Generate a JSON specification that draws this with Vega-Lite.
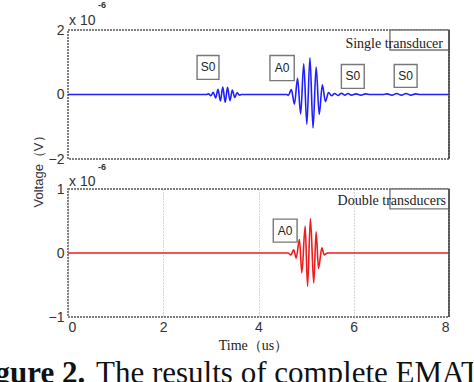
{
  "$schema": "https://vega.github.io/schema/vega-lite/v6.json",
  "padding": {"left": -34, "top": 0, "right": -8, "bottom": -5},
  "bounds": "flush",
  "spacing": 30,
  "background": "white",
  "config": {
    "view": {"stroke": "#555", "strokeDash": [2, 1], "strokeWidth": 1.5},
    "axis": {"labelFont": "Liberation Sans", "labelFontSize": 14, "labelColor": "#333", "titleFont": "Liberation Sans", "titleFontWeight": "normal", "titleColor": "#333", "domain": false, "ticks": false, "grid": false, "labelOverlap": false}
  },
  "datasets": {
    "single": [
      {"time": 0, "voltage": 0}, {"time": 2.9, "voltage": 0}, {"time": 2.95, "voltage": 0.02}, {"time": 3.0, "voltage": -0.04},
      {"time": 3.05, "voltage": 0.07}, {"time": 3.1, "voltage": -0.11}, {"time": 3.15, "voltage": 0.16}, {"time": 3.2, "voltage": -0.2},
      {"time": 3.25, "voltage": 0.23}, {"time": 3.3, "voltage": -0.24}, {"time": 3.35, "voltage": 0.22}, {"time": 3.4, "voltage": -0.19},
      {"time": 3.45, "voltage": 0.14}, {"time": 3.5, "voltage": -0.09}, {"time": 3.55, "voltage": 0.05}, {"time": 3.6, "voltage": -0.02},
      {"time": 3.65, "voltage": 0}, {"time": 4.6, "voltage": 0}, {"time": 4.625, "voltage": -0.03}, {"time": 4.69, "voltage": 0.15},
      {"time": 4.755, "voltage": -0.3}, {"time": 4.82, "voltage": 0.5}, {"time": 4.885, "voltage": -0.6}, {"time": 4.95, "voltage": 0.95},
      {"time": 5.015, "voltage": -0.92}, {"time": 5.08, "voltage": 1.14}, {"time": 5.145, "voltage": -1.04}, {"time": 5.21, "voltage": 0.85},
      {"time": 5.275, "voltage": -0.62}, {"time": 5.34, "voltage": 0.3}, {"time": 5.405, "voltage": -0.22}, {"time": 5.47, "voltage": 0.06},
      {"time": 5.535, "voltage": -0.04}, {"time": 5.6, "voltage": 0.03}, {"time": 5.67, "voltage": -0.03}, {"time": 5.74, "voltage": 0.04},
      {"time": 5.81, "voltage": -0.02}, {"time": 5.88, "voltage": 0.03}, {"time": 5.95, "voltage": -0.02}, {"time": 6.05, "voltage": 0.02},
      {"time": 6.15, "voltage": -0.02}, {"time": 6.25, "voltage": 0.02}, {"time": 6.35, "voltage": 0}, {"time": 6.6, "voltage": 0},
      {"time": 6.7, "voltage": 0.02}, {"time": 6.8, "voltage": -0.02}, {"time": 6.9, "voltage": 0.03}, {"time": 7.0, "voltage": -0.02},
      {"time": 7.1, "voltage": 0.03}, {"time": 7.2, "voltage": -0.02}, {"time": 7.3, "voltage": 0.02}, {"time": 7.4, "voltage": 0},
      {"time": 8, "voltage": 0}
    ],
    "double": [
      {"time": 0, "voltage": 0}, {"time": 4.62, "voltage": 0}, {"time": 4.68, "voltage": -0.03}, {"time": 4.74, "voltage": 0.05},
      {"time": 4.79, "voltage": -0.08}, {"time": 4.86, "voltage": 0.21}, {"time": 4.91, "voltage": -0.31}, {"time": 4.98, "voltage": 0.42},
      {"time": 5.03, "voltage": -0.52}, {"time": 5.09, "voltage": 0.54}, {"time": 5.16, "voltage": -0.47}, {"time": 5.21, "voltage": 0.33},
      {"time": 5.26, "voltage": -0.24}, {"time": 5.33, "voltage": 0.08}, {"time": 5.38, "voltage": -0.03}, {"time": 5.45, "voltage": 0},
      {"time": 8, "voltage": 0}
    ],
    "singleBoxes": [
      {"time": 2.71, "time2": 3.17, "voltage": 1.21, "voltage2": 0.47},
      {"time": 4.24, "time2": 4.75, "voltage": 1.21, "voltage2": 0.43},
      {"time": 5.74, "time2": 6.22, "voltage": 0.93, "voltage2": 0.19},
      {"time": 6.85, "time2": 7.33, "voltage": 0.93, "voltage2": 0.22},
      {"time": 6.76, "time2": 8, "voltage": 2, "voltage2": 1.38}
    ],
    "singleBoxText": [
      {"label": "S0", "time": 2.94, "voltage": 0.84},
      {"label": "A0", "time": 4.495, "voltage": 0.82},
      {"label": "S0", "time": 5.98, "voltage": 0.56},
      {"label": "S0", "time": 7.09, "voltage": 0.575}
    ],
    "singleLegend": [{"label": "Single transducer", "time": 7.874, "voltage": 1.58}],
    "singleEdge": [{"time": 8, "voltage": -2, "voltage2": 2}],
    "singleScale": [{"time": 0, "voltage": 2, "base": "x 10", "exponent": "-6"}],
    "doubleBoxes": [
      {"time": 4.31, "time2": 4.81, "voltage": 0.53, "voltage2": 0.17},
      {"time": 6.76, "time2": 8, "voltage": 1, "voltage2": 0.69}
    ],
    "doubleBoxText": [{"label": "A0", "time": 4.56, "voltage": 0.35}],
    "doubleLegend": [{"label": "Double transducers", "time": 7.937, "voltage": 0.81}],
    "doubleEdge": [{"time": 8, "voltage": -1, "voltage2": 1}],
    "doubleScale": [{"time": 0, "voltage": 1, "base": "x 10", "exponent": "-6"}],
    "caption": [{"time": 0, "voltage": -1, "lead": "Figure 2.", "body": "The results of complete EMAT"}]
  },
  "vconcat": [
    {
      "width": 381,
      "height": 129,
      "encoding": {
        "x": {"field": "time", "type": "quantitative", "scale": {"domain": [0, 8], "nice": false, "zero": false}, "axis": null},
        "y": {"field": "voltage", "type": "quantitative", "scale": {"domain": [-2, 2], "nice": false},
              "axis": {"values": [-2, 0, 2], "format": "d", "labelOverlap": false, "title": "Voltage（V）", "titleX": -30, "titleY": 138, "titleAngle": -90, "titleAlign": "center", "titleBaseline": "middle", "titleFontSize": 13, "labelPadding": 4}}
      },
      "layer": [
        {"data": {"name": "single"}, "mark": {"type": "line", "color": "#1f1fff", "strokeWidth": 1.6, "interpolate": "monotone"}},
        {"data": {"name": "singleBoxes"}, "mark": {"type": "rect", "fill": "white", "stroke": "#777", "strokeWidth": 1.4},
         "encoding": {"x2": {"field": "time2"}, "y2": {"field": "voltage2"}}},
        {"data": {"name": "singleBoxText"}, "mark": {"type": "text", "font": "Liberation Sans", "fontSize": 12, "color": "#222", "align": "center", "baseline": "middle"},
         "encoding": {"text": {"field": "label"}}},
        {"data": {"name": "singleLegend"}, "mark": {"type": "text", "font": "Liberation Serif", "fontSize": 14, "color": "#222", "align": "right", "baseline": "middle"},
         "encoding": {"text": {"field": "label"}}},
        {"data": {"name": "singleEdge"}, "mark": {"type": "rule", "color": "#444", "strokeWidth": 1.5},
         "encoding": {"y2": {"field": "voltage2"}}},
        {"data": {"name": "singleScale"}, "mark": {"type": "text", "font": "Liberation Sans", "fontSize": 14, "color": "#333", "align": "left", "baseline": "alphabetic", "dx": 1, "dy": -5},
         "encoding": {"text": {"field": "base"}}},
        {"data": {"name": "singleScale"}, "mark": {"type": "text", "font": "Liberation Sans", "fontSize": 9, "fontWeight": "bold", "color": "#333", "align": "left", "baseline": "alphabetic", "dx": 30, "dy": -22},
         "encoding": {"text": {"field": "exponent"}}}
      ]
    },
    {
      "width": 381,
      "height": 128,
      "encoding": {
        "x": {"field": "time", "type": "quantitative", "scale": {"domain": [0, 8], "nice": false, "zero": false},
              "axis": {"values": [0, 2, 4, 6, 8], "grid": true, "gridColor": "#aaa", "gridDash": [1, 2], "labelPadding": 3, "title": "Time（us）", "titleFont": "Liberation Serif", "titleFontSize": 14, "titleColor": "#222", "titleX": 185, "titleY": 28, "titleAlign": "center", "titleBaseline": "middle"}},
        "y": {"field": "voltage", "type": "quantitative", "scale": {"domain": [-1, 1], "nice": false},
              "axis": {"values": [-1, 0, 1], "format": "~g", "labelOverlap": false, "title": null, "labelPadding": 4}}
      },
      "layer": [
        {"data": {"name": "double"}, "mark": {"type": "line", "color": "#ee1c1c", "strokeWidth": 1.6, "interpolate": "monotone"}},
        {"data": {"name": "doubleBoxes"}, "mark": {"type": "rect", "fill": "white", "stroke": "#777", "strokeWidth": 1.4},
         "encoding": {"x2": {"field": "time2"}, "y2": {"field": "voltage2"}}},
        {"data": {"name": "doubleBoxText"}, "mark": {"type": "text", "font": "Liberation Sans", "fontSize": 12, "color": "#222", "align": "center", "baseline": "middle"},
         "encoding": {"text": {"field": "label"}}},
        {"data": {"name": "doubleLegend"}, "mark": {"type": "text", "font": "Liberation Serif", "fontSize": 14, "color": "#222", "align": "right", "baseline": "middle"},
         "encoding": {"text": {"field": "label"}}},
        {"data": {"name": "doubleEdge"}, "mark": {"type": "rule", "color": "#444", "strokeWidth": 1.5},
         "encoding": {"y2": {"field": "voltage2"}}},
        {"data": {"name": "doubleScale"}, "mark": {"type": "text", "font": "Liberation Sans", "fontSize": 14, "color": "#333", "align": "left", "baseline": "alphabetic", "dx": 1, "dy": -3},
         "encoding": {"text": {"field": "base"}}},
        {"data": {"name": "doubleScale"}, "mark": {"type": "text", "font": "Liberation Sans", "fontSize": 9, "fontWeight": "bold", "color": "#333", "align": "left", "baseline": "alphabetic", "dx": 30, "dy": -19},
         "encoding": {"text": {"field": "exponent"}}},
        {"data": {"name": "caption"}, "mark": {"type": "text", "font": "Liberation Serif", "fontSize": 31, "fontWeight": "bold", "color": "#111", "align": "left", "baseline": "alphabetic", "dx": -101, "dy": 66},
         "encoding": {"text": {"field": "lead"}}},
        {"data": {"name": "caption"}, "mark": {"type": "text", "font": "Liberation Serif", "fontSize": 31, "color": "#111", "align": "left", "baseline": "alphabetic", "dx": 28, "dy": 66},
         "encoding": {"text": {"field": "body"}}}
      ]
    }
  ]
}
